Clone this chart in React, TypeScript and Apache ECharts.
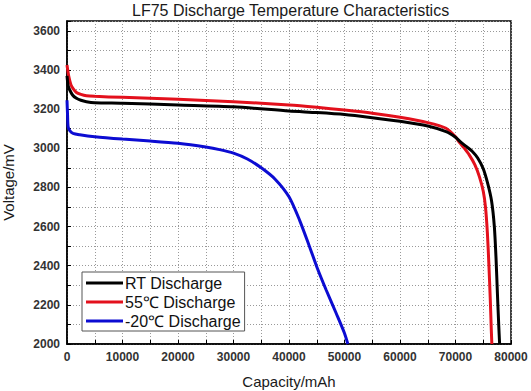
import React, { useEffect, useRef } from "react";
import * as echarts from "echarts";

const chartTitle = "LF75 Discharge Temperature Characteristics";
const seriesNames = ["RT Discharge", "55℃ Discharge", "-20℃ Discharge"];

const rtCapacity = [0, 200, 450, 1000, 1700, 2500, 3500, 5000, 10000, 20000, 30000, 40000, 45000, 50000, 55000, 60000, 65000, 68300, 70000, 71000, 72000, 73000, 74000, 75000, 75800, 76500, 77000, 77300, 77550, 77800, 77950];
const rtVoltage = [3370, 3320, 3300, 3272, 3255, 3245, 3238, 3233, 3230, 3221, 3212, 3190, 3182, 3172, 3156, 3138, 3114, 3085, 3056, 3030, 3008, 2985, 2950, 2895, 2820, 2730, 2600, 2440, 2260, 2090, 2000];

const hotCapacity = [0, 300, 700, 1100, 1700, 2500, 3500, 5000, 10000, 20000, 30000, 40000, 45000, 50000, 55000, 60000, 65000, 68300, 70000, 70700, 71500, 72500, 73500, 74300, 75000, 75400, 75750, 76030, 76270, 76450, 76550];
const hotVoltage = [3425, 3370, 3325, 3305, 3285, 3275, 3268, 3265, 3260, 3250, 3238, 3221, 3209, 3195, 3179, 3158, 3131, 3102, 3059, 3030, 3003, 2965, 2915, 2855, 2780, 2700, 2565, 2395, 2225, 2072, 2000];

const coldCapacity = [0, 100, 200, 500, 1100, 2300, 5000, 10000, 15000, 20000, 25000, 27500, 30000, 32500, 35000, 37500, 40000, 41900, 43700, 45000, 46700, 48500, 50000, 50600];
const coldVoltage = [3245, 3170, 3110, 3090, 3076, 3069, 3059, 3047, 3037, 3025, 3006, 2993, 2975, 2945, 2900, 2842, 2752, 2633, 2497, 2395, 2276, 2157, 2055, 2000];

const colors = ["#000000", "#e3101c", "#0c0cd2"];

const pairs = (xs: number[], ys: number[]) => xs.map((x, i) => [x, ys[i]]);

const FONT = "Liberation Sans, Arial, sans-serif";

export default function App() {
  const ref = useRef<HTMLDivElement>(null);
  useEffect(() => {
    if (!ref.current) return;
    const chart = echarts.init(ref.current, undefined, { renderer: "svg" });
    const data = [pairs(rtCapacity, rtVoltage), pairs(hotCapacity, hotVoltage), pairs(coldCapacity, coldVoltage)];
    chart.setOption({
      animation: false,
      backgroundColor: "#ffffff",
      textStyle: { fontFamily: FONT },
      title: {
        text: chartTitle,
        left: 132,
        top: 2,
        padding: 0,
        textStyle: { fontFamily: FONT, fontSize: 16, fontWeight: "normal", color: "#1a1a1a" },
      },
      grid: {
        left: 67,
        right: 20,
        top: 21,
        bottom: 47,
        show: true,
        borderColor: "#000",
        borderWidth: 1.5,
        containLabel: false,
        outerBoundsMode: "none",
      },
      legend: {
        orient: "vertical",
        left: 82,
        top: 272,
        data: seriesNames,
        icon: "rect",
        itemWidth: 37,
        itemHeight: 3,
        itemGap: 3,
        padding: [3, 4, 2, 4],
        borderColor: "#555",
        borderWidth: 1,
        backgroundColor: "#fff",
        textStyle: { fontFamily: FONT, fontSize: 16, color: "#111", padding: [0, 0, 0, -3], lineHeight: 16 },
      },
      xAxis: {
        type: "value",
        min: 0,
        max: 80000,
        interval: 5000,
        name: "Capacity/mAh",
        nameLocation: "middle",
        nameGap: 30,
        nameTextStyle: { fontFamily: FONT, fontSize: 15, color: "#1a1a1a" },
        axisLine: { lineStyle: { color: "#000", width: 1.5 } },
        axisTick: { inside: true, length: 4, lineStyle: { color: "#000" } },
        axisLabel: {
          margin: 7,
          fontFamily: FONT,
          fontSize: 12,
          fontWeight: "bold",
          color: "#333",
          formatter: (v: number) => (v % 10000 === 0 ? String(v) : ""),
        },
        splitLine: { show: true, lineStyle: { color: "#999", type: [1, 2], width: 1 } },
      },
      yAxis: {
        type: "value",
        min: 2000,
        max: 3650,
        interval: 100,
        name: "Voltage/mV",
        nameLocation: "middle",
        nameGap: 51,
        nameTextStyle: { fontFamily: FONT, fontSize: 15, color: "#1a1a1a" },
        axisLine: { lineStyle: { color: "#000", width: 1.5 } },
        axisTick: { inside: true, length: 4, lineStyle: { color: "#000" } },
        axisLabel: {
          margin: 7,
          fontFamily: FONT,
          fontSize: 12,
          fontWeight: "bold",
          color: "#333",
          formatter: (v: number) => (v % 200 === 0 ? String(v) : ""),
        },
        splitLine: { show: true, lineStyle: { color: "#999", type: [1, 2], width: 1 } },
      },
      series: seriesNames.map((name, i) => ({
        name,
        type: "line",
        data: data[i],
        showSymbol: false,
        smooth: 0.25,
        color: colors[i],
        lineStyle: { width: 3, color: colors[i] },
        z: 3 - i,
      })),
    });
    return () => chart.dispose();
  }, []);
  return <div ref={ref} style={{ width: 531, height: 391, position: "absolute", left: 0, top: 0 }} />;
}
